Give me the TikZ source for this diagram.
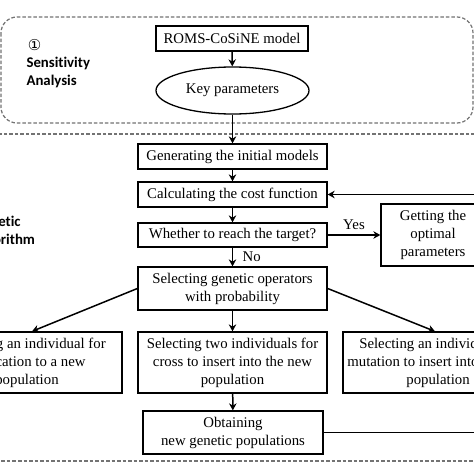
\documentclass[tikz,border=0pt]{standalone}
\usepackage{fontspec}
\setmainfont{Liberation Serif}
\newfontfamily\labelfont[Ligatures=NoCommon]{Carlito}
\newfontfamily\symfont{DejaVu Sans}
\usetikzlibrary{arrows.meta,shapes.geometric}

\tikzset{
  box/.style={draw, line width=1.3pt, align=center, inner sep=1pt,
    font=\fontsize{14.8}{18}\selectfont},
  stage/.style={draw=gray!90!black, line width=1.2pt, dash pattern=on 3.5pt off 2pt},
  flow/.style={-{Stealth[length=7pt,width=7.5pt]}, line width=1.5pt},
  plain/.style={line width=1.5pt},
  steplabel/.style={font=\labelfont\bfseries\fontsize{14.8}{18}\selectfont, align=left, anchor=west}
}

\begin{document}
\begin{tikzpicture}[x=1pt,y=-1pt]
 \useasboundingbox (0,0) rectangle (474,474);
 \clip (0,0) rectangle (474,474);
 \fill[white] (0,0) rectangle (474,474);

 % stage frames
 \draw[stage, rounded corners=16pt] (1,17) rectangle (473,123);
 \draw[stage] (-40,134) rectangle (520,461);

 \draw (34.5,45) node (one) {\symfont\fontsize{15}{18}\selectfont ①};
 \draw (23,72) node[steplabel] (sa) {Sensitivity\\Analysis};
 \draw (-30,232) node[steplabel] (ga) {Genetic\\Algorithm};

  \draw (232,38.5) node[box, minimum width=152pt, minimum height=25pt] (roms) {ROMS-CoSiNE model};
  \draw (232.5,90.5) node[box, ellipse, minimum width=153pt, minimum height=47pt] (key) {Key parameters};

  \draw (232.5,156.5) node[box, minimum width=189pt, minimum height=25pt] (gen) {Generating the initial models};
  \draw (232.5,194.5) node[box, minimum width=189pt, minimum height=25pt] (cost) {Calculating the cost function};
  \draw (232.5,235) node[box, minimum width=189pt, minimum height=24pt] (target) {Whether to reach the target?};
  \draw (433,235) node[box, minimum width=104pt, minimum height=62pt] (optimal) {Getting the\\optimal\\parameters};
  \draw (232.5,288.5) node[box, minimum width=189pt, minimum height=43pt] (oper) {Selecting genetic operators\\with probability};

	\draw (27,362.5) node[box, minimum width=190pt, minimum height=61pt] (copy) {Selecting an individual for\\replication to a new\\population};
	\draw (232.5,362.5) node[box, minimum width=189pt, minimum height=61pt] (cross) {Selecting two individuals for\\cross to insert into the new\\population};
	\draw (438,362.5) node[box, minimum width=190pt, minimum height=61pt] (mutate) {Selecting an individual for\\mutation to insert into the new\\population};
	  \draw (233,432.5) node[box, minimum width=180pt, minimum height=43pt] (newpop) {Obtaining\\new genetic populations};

  \coordinate (loopdown) at (500,432.5);
  \coordinate (loopup) at (500,194.5);

     \path[flow] (roms) edge (key);
     \path[flow] (key) edge (gen);
     \path[flow] (gen) edge (cost);
     \path[flow] (cost) edge (target);
     \path[flow] (target) edge node[label={[label distance=-3pt]above:{\fontsize{14.8}{18}\selectfont Yes}}] {} (optimal);
     \path[flow] (target) edge node[label={[label distance=2pt]right:{\fontsize{14.8}{18}\selectfont No}}] {} (oper);
     \path[flow] (oper.west) edge ([xshift=5pt]copy.north);
     \path[flow] (oper) edge (cross);
     \path[flow] (oper.east) edge ([xshift=-3pt]mutate.north);
     \path[flow] (cross) edge (newpop);
     \draw[plain] (newpop.east) -- (loopdown) -- (loopup);
     \draw[flow] (loopup) -- (cost.east);
\end{tikzpicture}
\end{document}
